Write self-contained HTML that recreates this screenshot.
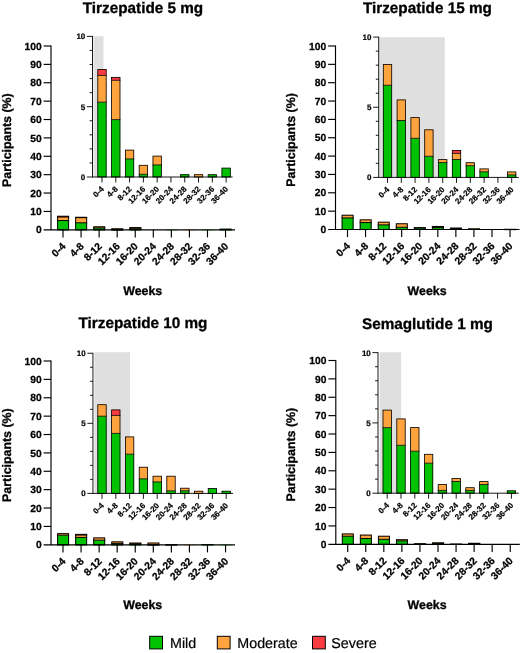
<!DOCTYPE html>
<html lang="en"><head><meta charset="utf-8"><title>Adverse events by severity over time</title>
<style>
html,body{margin:0;padding:0;background:#fff;}
body{width:520px;height:653px;overflow:hidden;}
svg{display:block;text-rendering:geometricPrecision;font-family:"Liberation Sans",sans-serif;fill:#000;}
</style></head><body>
<svg width="520" height="653" viewBox="0 0 520 653">
<rect x="0" y="0" width="520" height="653" fill="#fff"/>
<!-- Tirzepatide 5 mg -->
<text x="143.00" y="13.10" font-size="15.3" font-weight="bold" text-anchor="middle" stroke="#000" stroke-width="0.3">Tirzepatide 5 mg</text>
<text x="10.80" y="140.10" font-size="12.4" font-weight="bold" text-anchor="middle" stroke="#000" stroke-width="0.3" transform="rotate(-90 10.80 140.10)">Participants (%)</text>
<text x="142.70" y="294.60" font-size="12.4" font-weight="bold" text-anchor="middle" stroke="#000" stroke-width="0.3">Weeks</text>
<rect x="57.35" y="220.52" width="11.50" height="9.78" fill="#00C200"/>
<rect x="57.35" y="217.02" width="11.50" height="3.50" fill="#FFA33E"/>
<rect x="57.35" y="215.99" width="11.50" height="1.02" fill="#FA3C41"/>
<line x1="57.10" y1="220.52" x2="69.10" y2="220.52" stroke="#000" stroke-width="1.0"/>
<line x1="57.10" y1="217.02" x2="69.10" y2="217.02" stroke="#000" stroke-width="1.0"/>
<rect x="57.60" y="216.24" width="11.00" height="13.56" fill="none" stroke="#000" stroke-width="1.0"/>
<rect x="75.41" y="222.80" width="11.50" height="7.50" fill="#00C200"/>
<rect x="75.41" y="217.66" width="11.50" height="5.14" fill="#FFA33E"/>
<rect x="75.41" y="217.02" width="11.50" height="0.64" fill="#FA3C41"/>
<line x1="75.16" y1="222.80" x2="87.16" y2="222.80" stroke="#000" stroke-width="1.0"/>
<line x1="75.16" y1="217.66" x2="87.16" y2="217.66" stroke="#000" stroke-width="1.0"/>
<rect x="75.66" y="217.27" width="11.00" height="12.53" fill="none" stroke="#000" stroke-width="1.0"/>
<rect x="93.47" y="227.93" width="11.50" height="2.37" fill="#00C200"/>
<rect x="93.47" y="226.53" width="11.50" height="1.40" fill="#FFA33E"/>
<line x1="93.22" y1="227.93" x2="105.22" y2="227.93" stroke="#000" stroke-width="1.0"/>
<rect x="93.72" y="226.78" width="11.00" height="3.02" fill="none" stroke="#000" stroke-width="1.0"/>
<rect x="111.53" y="229.95" width="11.50" height="0.35" fill="#00C200"/>
<rect x="111.53" y="228.52" width="11.50" height="1.43" fill="#FFA33E"/>
<line x1="111.28" y1="229.95" x2="123.28" y2="229.95" stroke="#000" stroke-width="1.0"/>
<rect x="111.78" y="228.77" width="11.00" height="1.03" fill="none" stroke="#000" stroke-width="1.0"/>
<rect x="129.59" y="228.72" width="11.50" height="1.58" fill="#00C200"/>
<rect x="129.59" y="227.32" width="11.50" height="1.40" fill="#FFA33E"/>
<line x1="129.34" y1="228.72" x2="141.34" y2="228.72" stroke="#000" stroke-width="1.0"/>
<rect x="129.84" y="227.57" width="11.00" height="2.23" fill="none" stroke="#000" stroke-width="1.0"/>
<rect x="165.71" y="229.75" width="11.50" height="0.55" fill="#00C200"/>
<rect x="165.96" y="230.00" width="11.00" height="-0.20" fill="none" stroke="#000" stroke-width="1.0"/>
<rect x="183.77" y="229.75" width="11.50" height="0.55" fill="#FFA33E"/>
<rect x="184.02" y="230.00" width="11.00" height="-0.20" fill="none" stroke="#000" stroke-width="1.0"/>
<rect x="201.83" y="229.75" width="11.50" height="0.55" fill="#00C200"/>
<rect x="202.08" y="230.00" width="11.00" height="-0.20" fill="none" stroke="#000" stroke-width="1.0"/>
<rect x="219.89" y="228.88" width="11.50" height="1.42" fill="#00C200"/>
<rect x="220.14" y="229.13" width="11.00" height="0.67" fill="none" stroke="#000" stroke-width="1.0"/>
<line x1="51.00" y1="45.45" x2="51.00" y2="230.35" stroke="#000" stroke-width="1.15"/>
<line x1="43.60" y1="229.80" x2="235.00" y2="229.80" stroke="#000" stroke-width="1.15"/>
<text x="41.70" y="233.45" font-size="10.3" font-weight="bold" text-anchor="end" stroke="#000" stroke-width="0.25">0</text>
<line x1="43.60" y1="211.42" x2="51.00" y2="211.42" stroke="#000" stroke-width="1.15"/>
<text x="41.70" y="215.07" font-size="10.3" font-weight="bold" text-anchor="end" stroke="#000" stroke-width="0.25">10</text>
<line x1="43.60" y1="193.04" x2="51.00" y2="193.04" stroke="#000" stroke-width="1.15"/>
<text x="41.70" y="196.69" font-size="10.3" font-weight="bold" text-anchor="end" stroke="#000" stroke-width="0.25">20</text>
<line x1="43.60" y1="174.66" x2="51.00" y2="174.66" stroke="#000" stroke-width="1.15"/>
<text x="41.70" y="178.31" font-size="10.3" font-weight="bold" text-anchor="end" stroke="#000" stroke-width="0.25">30</text>
<line x1="43.60" y1="156.28" x2="51.00" y2="156.28" stroke="#000" stroke-width="1.15"/>
<text x="41.70" y="159.93" font-size="10.3" font-weight="bold" text-anchor="end" stroke="#000" stroke-width="0.25">40</text>
<line x1="43.60" y1="137.90" x2="51.00" y2="137.90" stroke="#000" stroke-width="1.15"/>
<text x="41.70" y="141.55" font-size="10.3" font-weight="bold" text-anchor="end" stroke="#000" stroke-width="0.25">50</text>
<line x1="43.60" y1="119.52" x2="51.00" y2="119.52" stroke="#000" stroke-width="1.15"/>
<text x="41.70" y="123.17" font-size="10.3" font-weight="bold" text-anchor="end" stroke="#000" stroke-width="0.25">60</text>
<line x1="43.60" y1="101.14" x2="51.00" y2="101.14" stroke="#000" stroke-width="1.15"/>
<text x="41.70" y="104.79" font-size="10.3" font-weight="bold" text-anchor="end" stroke="#000" stroke-width="0.25">70</text>
<line x1="43.60" y1="82.76" x2="51.00" y2="82.76" stroke="#000" stroke-width="1.15"/>
<text x="41.70" y="86.41" font-size="10.3" font-weight="bold" text-anchor="end" stroke="#000" stroke-width="0.25">80</text>
<line x1="43.60" y1="64.38" x2="51.00" y2="64.38" stroke="#000" stroke-width="1.15"/>
<text x="41.70" y="68.03" font-size="10.3" font-weight="bold" text-anchor="end" stroke="#000" stroke-width="0.25">90</text>
<line x1="43.60" y1="46.00" x2="51.00" y2="46.00" stroke="#000" stroke-width="1.15"/>
<text x="41.70" y="49.65" font-size="10.3" font-weight="bold" text-anchor="end" stroke="#000" stroke-width="0.25">100</text>
<line x1="63.00" y1="229.80" x2="63.00" y2="237.40" stroke="#000" stroke-width="1.15"/>
<text x="66.40" y="247.00" font-size="10.3" font-weight="bold" text-anchor="end" stroke="#000" stroke-width="0.25" transform="rotate(-45 66.40 247.00)">0-4</text>
<line x1="81.06" y1="229.80" x2="81.06" y2="237.40" stroke="#000" stroke-width="1.15"/>
<text x="84.46" y="247.00" font-size="10.3" font-weight="bold" text-anchor="end" stroke="#000" stroke-width="0.25" transform="rotate(-45 84.46 247.00)">4-8</text>
<line x1="99.12" y1="229.80" x2="99.12" y2="237.40" stroke="#000" stroke-width="1.15"/>
<text x="102.52" y="247.00" font-size="10.3" font-weight="bold" text-anchor="end" stroke="#000" stroke-width="0.25" transform="rotate(-45 102.52 247.00)">8-12</text>
<line x1="117.18" y1="229.80" x2="117.18" y2="237.40" stroke="#000" stroke-width="1.15"/>
<text x="120.58" y="247.00" font-size="10.3" font-weight="bold" text-anchor="end" stroke="#000" stroke-width="0.25" transform="rotate(-45 120.58 247.00)">12-16</text>
<line x1="135.24" y1="229.80" x2="135.24" y2="237.40" stroke="#000" stroke-width="1.15"/>
<text x="138.64" y="247.00" font-size="10.3" font-weight="bold" text-anchor="end" stroke="#000" stroke-width="0.25" transform="rotate(-45 138.64 247.00)">16-20</text>
<line x1="153.30" y1="229.80" x2="153.30" y2="237.40" stroke="#000" stroke-width="1.15"/>
<text x="156.70" y="247.00" font-size="10.3" font-weight="bold" text-anchor="end" stroke="#000" stroke-width="0.25" transform="rotate(-45 156.70 247.00)">20-24</text>
<line x1="171.36" y1="229.80" x2="171.36" y2="237.40" stroke="#000" stroke-width="1.15"/>
<text x="174.76" y="247.00" font-size="10.3" font-weight="bold" text-anchor="end" stroke="#000" stroke-width="0.25" transform="rotate(-45 174.76 247.00)">24-28</text>
<line x1="189.42" y1="229.80" x2="189.42" y2="237.40" stroke="#000" stroke-width="1.15"/>
<text x="192.82" y="247.00" font-size="10.3" font-weight="bold" text-anchor="end" stroke="#000" stroke-width="0.25" transform="rotate(-45 192.82 247.00)">28-32</text>
<line x1="207.48" y1="229.80" x2="207.48" y2="237.40" stroke="#000" stroke-width="1.15"/>
<text x="210.88" y="247.00" font-size="10.3" font-weight="bold" text-anchor="end" stroke="#000" stroke-width="0.25" transform="rotate(-45 210.88 247.00)">32-36</text>
<line x1="225.54" y1="229.80" x2="225.54" y2="237.40" stroke="#000" stroke-width="1.15"/>
<text x="228.94" y="247.00" font-size="10.3" font-weight="bold" text-anchor="end" stroke="#000" stroke-width="0.25" transform="rotate(-45 228.94 247.00)">36-40</text>
<rect x="93.50" y="36.20" width="10.00" height="140.80" fill="#DFDFDF"/>
<rect x="97.65" y="102.20" width="8.70" height="74.80" fill="#00C200"/>
<rect x="97.65" y="75.40" width="8.70" height="26.80" fill="#FFA33E"/>
<rect x="97.65" y="69.35" width="8.70" height="6.05" fill="#FA3C41"/>
<line x1="97.40" y1="102.20" x2="106.60" y2="102.20" stroke="#000" stroke-width="0.8"/>
<line x1="97.40" y1="75.40" x2="106.60" y2="75.40" stroke="#000" stroke-width="0.8"/>
<rect x="97.80" y="69.50" width="8.40" height="107.50" fill="none" stroke="#000" stroke-width="0.8"/>
<rect x="111.44" y="119.60" width="8.70" height="57.40" fill="#00C200"/>
<rect x="111.44" y="80.30" width="8.70" height="39.30" fill="#FFA33E"/>
<rect x="111.44" y="77.20" width="8.70" height="3.10" fill="#FA3C41"/>
<line x1="111.19" y1="119.60" x2="120.39" y2="119.60" stroke="#000" stroke-width="0.8"/>
<line x1="111.19" y1="80.30" x2="120.39" y2="80.30" stroke="#000" stroke-width="0.8"/>
<rect x="111.59" y="77.35" width="8.40" height="99.65" fill="none" stroke="#000" stroke-width="0.8"/>
<rect x="125.23" y="158.90" width="8.70" height="18.10" fill="#00C200"/>
<rect x="125.23" y="149.95" width="8.70" height="8.95" fill="#FFA33E"/>
<line x1="124.98" y1="158.90" x2="134.18" y2="158.90" stroke="#000" stroke-width="0.8"/>
<rect x="125.38" y="150.10" width="8.40" height="26.90" fill="none" stroke="#000" stroke-width="0.8"/>
<rect x="139.02" y="174.30" width="8.70" height="2.70" fill="#00C200"/>
<rect x="139.02" y="165.15" width="8.70" height="9.15" fill="#FFA33E"/>
<line x1="138.77" y1="174.30" x2="147.97" y2="174.30" stroke="#000" stroke-width="0.8"/>
<rect x="139.17" y="165.30" width="8.40" height="11.70" fill="none" stroke="#000" stroke-width="0.8"/>
<rect x="152.81" y="164.90" width="8.70" height="12.10" fill="#00C200"/>
<rect x="152.81" y="155.95" width="8.70" height="8.95" fill="#FFA33E"/>
<line x1="152.56" y1="164.90" x2="161.76" y2="164.90" stroke="#000" stroke-width="0.8"/>
<rect x="152.96" y="156.10" width="8.40" height="20.90" fill="none" stroke="#000" stroke-width="0.8"/>
<rect x="180.39" y="174.55" width="8.70" height="2.45" fill="#00C200"/>
<rect x="180.54" y="174.70" width="8.40" height="2.30" fill="none" stroke="#000" stroke-width="0.8"/>
<rect x="194.18" y="174.55" width="8.70" height="2.45" fill="#FFA33E"/>
<rect x="194.33" y="174.70" width="8.40" height="2.30" fill="none" stroke="#000" stroke-width="0.8"/>
<rect x="207.97" y="174.55" width="8.70" height="2.45" fill="#00C200"/>
<rect x="208.12" y="174.70" width="8.40" height="2.30" fill="none" stroke="#000" stroke-width="0.8"/>
<rect x="221.76" y="167.95" width="8.70" height="9.05" fill="#00C200"/>
<rect x="221.91" y="168.10" width="8.40" height="8.90" fill="none" stroke="#000" stroke-width="0.8"/>
<line x1="92.50" y1="35.95" x2="92.50" y2="177.45" stroke="#000" stroke-width="0.9"/>
<line x1="86.90" y1="177.00" x2="232.60" y2="177.00" stroke="#000" stroke-width="0.9"/>
<text x="85.30" y="180.05" font-size="8" font-weight="bold" text-anchor="end" stroke="#000" stroke-width="0.2">0</text>
<line x1="89.60" y1="162.94" x2="92.50" y2="162.94" stroke="#000" stroke-width="0.9"/>
<line x1="89.60" y1="148.88" x2="92.50" y2="148.88" stroke="#000" stroke-width="0.9"/>
<line x1="89.60" y1="134.82" x2="92.50" y2="134.82" stroke="#000" stroke-width="0.9"/>
<line x1="89.60" y1="120.76" x2="92.50" y2="120.76" stroke="#000" stroke-width="0.9"/>
<line x1="86.90" y1="106.70" x2="92.50" y2="106.70" stroke="#000" stroke-width="0.9"/>
<text x="85.30" y="109.75" font-size="8" font-weight="bold" text-anchor="end" stroke="#000" stroke-width="0.2">5</text>
<line x1="89.60" y1="92.64" x2="92.50" y2="92.64" stroke="#000" stroke-width="0.9"/>
<line x1="89.60" y1="78.58" x2="92.50" y2="78.58" stroke="#000" stroke-width="0.9"/>
<line x1="89.60" y1="64.52" x2="92.50" y2="64.52" stroke="#000" stroke-width="0.9"/>
<line x1="89.60" y1="50.46" x2="92.50" y2="50.46" stroke="#000" stroke-width="0.9"/>
<line x1="86.90" y1="36.40" x2="92.50" y2="36.40" stroke="#000" stroke-width="0.9"/>
<text x="85.30" y="39.45" font-size="8" font-weight="bold" text-anchor="end" stroke="#000" stroke-width="0.2">10</text>
<line x1="102.00" y1="177.00" x2="102.00" y2="182.50" stroke="#000" stroke-width="0.9"/>
<text x="104.50" y="189.70" font-size="8" font-weight="bold" text-anchor="end" stroke="#000" stroke-width="0.2" transform="rotate(-45 104.50 189.70)">0-4</text>
<line x1="115.79" y1="177.00" x2="115.79" y2="182.50" stroke="#000" stroke-width="0.9"/>
<text x="118.29" y="189.70" font-size="8" font-weight="bold" text-anchor="end" stroke="#000" stroke-width="0.2" transform="rotate(-45 118.29 189.70)">4-8</text>
<line x1="129.58" y1="177.00" x2="129.58" y2="182.50" stroke="#000" stroke-width="0.9"/>
<text x="132.08" y="189.70" font-size="8" font-weight="bold" text-anchor="end" stroke="#000" stroke-width="0.2" transform="rotate(-45 132.08 189.70)">8-12</text>
<line x1="143.37" y1="177.00" x2="143.37" y2="182.50" stroke="#000" stroke-width="0.9"/>
<text x="145.87" y="189.70" font-size="8" font-weight="bold" text-anchor="end" stroke="#000" stroke-width="0.2" transform="rotate(-45 145.87 189.70)">12-16</text>
<line x1="157.16" y1="177.00" x2="157.16" y2="182.50" stroke="#000" stroke-width="0.9"/>
<text x="159.66" y="189.70" font-size="8" font-weight="bold" text-anchor="end" stroke="#000" stroke-width="0.2" transform="rotate(-45 159.66 189.70)">16-20</text>
<line x1="170.95" y1="177.00" x2="170.95" y2="182.50" stroke="#000" stroke-width="0.9"/>
<text x="173.45" y="189.70" font-size="8" font-weight="bold" text-anchor="end" stroke="#000" stroke-width="0.2" transform="rotate(-45 173.45 189.70)">20-24</text>
<line x1="184.74" y1="177.00" x2="184.74" y2="182.50" stroke="#000" stroke-width="0.9"/>
<text x="187.24" y="189.70" font-size="8" font-weight="bold" text-anchor="end" stroke="#000" stroke-width="0.2" transform="rotate(-45 187.24 189.70)">24-28</text>
<line x1="198.53" y1="177.00" x2="198.53" y2="182.50" stroke="#000" stroke-width="0.9"/>
<text x="201.03" y="189.70" font-size="8" font-weight="bold" text-anchor="end" stroke="#000" stroke-width="0.2" transform="rotate(-45 201.03 189.70)">28-32</text>
<line x1="212.32" y1="177.00" x2="212.32" y2="182.50" stroke="#000" stroke-width="0.9"/>
<text x="214.82" y="189.70" font-size="8" font-weight="bold" text-anchor="end" stroke="#000" stroke-width="0.2" transform="rotate(-45 214.82 189.70)">32-36</text>
<line x1="226.11" y1="177.00" x2="226.11" y2="182.50" stroke="#000" stroke-width="0.9"/>
<text x="228.61" y="189.70" font-size="8" font-weight="bold" text-anchor="end" stroke="#000" stroke-width="0.2" transform="rotate(-45 228.61 189.70)">36-40</text>
<!-- Tirzepatide 15 mg -->
<text x="427.40" y="13.10" font-size="15.3" font-weight="bold" text-anchor="middle" stroke="#000" stroke-width="0.3">Tirzepatide 15 mg</text>
<text x="295.50" y="139.95" font-size="12.4" font-weight="bold" text-anchor="middle" stroke="#000" stroke-width="0.3" transform="rotate(-90 295.50 139.95)">Participants (%)</text>
<text x="427.10" y="294.60" font-size="12.4" font-weight="bold" text-anchor="middle" stroke="#000" stroke-width="0.3">Weeks</text>
<rect x="341.85" y="217.95" width="11.50" height="12.05" fill="#00C200"/>
<rect x="341.85" y="214.97" width="11.50" height="2.98" fill="#FFA33E"/>
<line x1="341.60" y1="217.95" x2="353.60" y2="217.95" stroke="#000" stroke-width="1.0"/>
<rect x="342.10" y="215.22" width="11.00" height="14.28" fill="none" stroke="#000" stroke-width="1.0"/>
<rect x="359.91" y="222.56" width="11.50" height="7.44" fill="#00C200"/>
<rect x="359.91" y="219.61" width="11.50" height="2.95" fill="#FFA33E"/>
<line x1="359.66" y1="222.56" x2="371.66" y2="222.56" stroke="#000" stroke-width="1.0"/>
<rect x="360.16" y="219.86" width="11.00" height="9.64" fill="none" stroke="#000" stroke-width="1.0"/>
<rect x="377.97" y="224.89" width="11.50" height="5.11" fill="#00C200"/>
<rect x="377.97" y="221.93" width="11.50" height="2.96" fill="#FFA33E"/>
<line x1="377.72" y1="224.89" x2="389.72" y2="224.89" stroke="#000" stroke-width="1.0"/>
<rect x="378.22" y="222.18" width="11.00" height="7.32" fill="none" stroke="#000" stroke-width="1.0"/>
<rect x="396.03" y="227.24" width="11.50" height="2.76" fill="#00C200"/>
<rect x="396.03" y="223.52" width="11.50" height="3.72" fill="#FFA33E"/>
<line x1="395.78" y1="227.24" x2="407.78" y2="227.24" stroke="#000" stroke-width="1.0"/>
<rect x="396.28" y="223.77" width="11.00" height="5.73" fill="none" stroke="#000" stroke-width="1.0"/>
<rect x="414.09" y="228.06" width="11.50" height="1.94" fill="#00C200"/>
<rect x="414.09" y="227.42" width="11.50" height="0.64" fill="#FFA33E"/>
<line x1="413.84" y1="228.06" x2="425.84" y2="228.06" stroke="#000" stroke-width="1.0"/>
<rect x="414.34" y="227.67" width="11.00" height="1.83" fill="none" stroke="#000" stroke-width="1.0"/>
<rect x="432.15" y="227.66" width="11.50" height="2.34" fill="#00C200"/>
<rect x="432.15" y="226.86" width="11.50" height="0.80" fill="#FFA33E"/>
<rect x="432.15" y="226.22" width="11.50" height="0.64" fill="#FA3C41"/>
<line x1="431.90" y1="227.66" x2="443.90" y2="227.66" stroke="#000" stroke-width="1.0"/>
<line x1="431.90" y1="226.86" x2="443.90" y2="226.86" stroke="#000" stroke-width="1.0"/>
<rect x="432.40" y="226.47" width="11.00" height="3.03" fill="none" stroke="#000" stroke-width="1.0"/>
<rect x="450.21" y="228.47" width="11.50" height="1.53" fill="#00C200"/>
<rect x="450.21" y="227.83" width="11.50" height="0.64" fill="#FFA33E"/>
<line x1="449.96" y1="228.47" x2="461.96" y2="228.47" stroke="#000" stroke-width="1.0"/>
<rect x="450.46" y="228.08" width="11.00" height="1.42" fill="none" stroke="#000" stroke-width="1.0"/>
<rect x="468.27" y="229.27" width="11.50" height="0.73" fill="#00C200"/>
<rect x="468.27" y="228.64" width="11.50" height="0.63" fill="#FFA33E"/>
<line x1="468.02" y1="229.27" x2="480.02" y2="229.27" stroke="#000" stroke-width="1.0"/>
<rect x="468.52" y="228.89" width="11.00" height="0.61" fill="none" stroke="#000" stroke-width="1.0"/>
<rect x="504.39" y="229.67" width="11.50" height="0.33" fill="#00C200"/>
<rect x="504.39" y="229.03" width="11.50" height="0.64" fill="#FFA33E"/>
<line x1="504.14" y1="229.67" x2="516.14" y2="229.67" stroke="#000" stroke-width="1.0"/>
<rect x="504.64" y="229.28" width="11.00" height="0.22" fill="none" stroke="#000" stroke-width="1.0"/>
<line x1="335.50" y1="45.45" x2="335.50" y2="230.05" stroke="#000" stroke-width="1.15"/>
<line x1="328.10" y1="229.50" x2="519.60" y2="229.50" stroke="#000" stroke-width="1.15"/>
<text x="326.20" y="233.15" font-size="10.3" font-weight="bold" text-anchor="end" stroke="#000" stroke-width="0.25">0</text>
<line x1="328.10" y1="211.15" x2="335.50" y2="211.15" stroke="#000" stroke-width="1.15"/>
<text x="326.20" y="214.80" font-size="10.3" font-weight="bold" text-anchor="end" stroke="#000" stroke-width="0.25">10</text>
<line x1="328.10" y1="192.80" x2="335.50" y2="192.80" stroke="#000" stroke-width="1.15"/>
<text x="326.20" y="196.45" font-size="10.3" font-weight="bold" text-anchor="end" stroke="#000" stroke-width="0.25">20</text>
<line x1="328.10" y1="174.45" x2="335.50" y2="174.45" stroke="#000" stroke-width="1.15"/>
<text x="326.20" y="178.10" font-size="10.3" font-weight="bold" text-anchor="end" stroke="#000" stroke-width="0.25">30</text>
<line x1="328.10" y1="156.10" x2="335.50" y2="156.10" stroke="#000" stroke-width="1.15"/>
<text x="326.20" y="159.75" font-size="10.3" font-weight="bold" text-anchor="end" stroke="#000" stroke-width="0.25">40</text>
<line x1="328.10" y1="137.75" x2="335.50" y2="137.75" stroke="#000" stroke-width="1.15"/>
<text x="326.20" y="141.40" font-size="10.3" font-weight="bold" text-anchor="end" stroke="#000" stroke-width="0.25">50</text>
<line x1="328.10" y1="119.40" x2="335.50" y2="119.40" stroke="#000" stroke-width="1.15"/>
<text x="326.20" y="123.05" font-size="10.3" font-weight="bold" text-anchor="end" stroke="#000" stroke-width="0.25">60</text>
<line x1="328.10" y1="101.05" x2="335.50" y2="101.05" stroke="#000" stroke-width="1.15"/>
<text x="326.20" y="104.70" font-size="10.3" font-weight="bold" text-anchor="end" stroke="#000" stroke-width="0.25">70</text>
<line x1="328.10" y1="82.70" x2="335.50" y2="82.70" stroke="#000" stroke-width="1.15"/>
<text x="326.20" y="86.35" font-size="10.3" font-weight="bold" text-anchor="end" stroke="#000" stroke-width="0.25">80</text>
<line x1="328.10" y1="64.35" x2="335.50" y2="64.35" stroke="#000" stroke-width="1.15"/>
<text x="326.20" y="68.00" font-size="10.3" font-weight="bold" text-anchor="end" stroke="#000" stroke-width="0.25">90</text>
<line x1="328.10" y1="46.00" x2="335.50" y2="46.00" stroke="#000" stroke-width="1.15"/>
<text x="326.20" y="49.65" font-size="10.3" font-weight="bold" text-anchor="end" stroke="#000" stroke-width="0.25">100</text>
<line x1="347.50" y1="229.50" x2="347.50" y2="237.10" stroke="#000" stroke-width="1.15"/>
<text x="350.90" y="246.70" font-size="10.3" font-weight="bold" text-anchor="end" stroke="#000" stroke-width="0.25" transform="rotate(-45 350.90 246.70)">0-4</text>
<line x1="365.56" y1="229.50" x2="365.56" y2="237.10" stroke="#000" stroke-width="1.15"/>
<text x="368.96" y="246.70" font-size="10.3" font-weight="bold" text-anchor="end" stroke="#000" stroke-width="0.25" transform="rotate(-45 368.96 246.70)">4-8</text>
<line x1="383.62" y1="229.50" x2="383.62" y2="237.10" stroke="#000" stroke-width="1.15"/>
<text x="387.02" y="246.70" font-size="10.3" font-weight="bold" text-anchor="end" stroke="#000" stroke-width="0.25" transform="rotate(-45 387.02 246.70)">8-12</text>
<line x1="401.68" y1="229.50" x2="401.68" y2="237.10" stroke="#000" stroke-width="1.15"/>
<text x="405.08" y="246.70" font-size="10.3" font-weight="bold" text-anchor="end" stroke="#000" stroke-width="0.25" transform="rotate(-45 405.08 246.70)">12-16</text>
<line x1="419.74" y1="229.50" x2="419.74" y2="237.10" stroke="#000" stroke-width="1.15"/>
<text x="423.14" y="246.70" font-size="10.3" font-weight="bold" text-anchor="end" stroke="#000" stroke-width="0.25" transform="rotate(-45 423.14 246.70)">16-20</text>
<line x1="437.80" y1="229.50" x2="437.80" y2="237.10" stroke="#000" stroke-width="1.15"/>
<text x="441.20" y="246.70" font-size="10.3" font-weight="bold" text-anchor="end" stroke="#000" stroke-width="0.25" transform="rotate(-45 441.20 246.70)">20-24</text>
<line x1="455.86" y1="229.50" x2="455.86" y2="237.10" stroke="#000" stroke-width="1.15"/>
<text x="459.26" y="246.70" font-size="10.3" font-weight="bold" text-anchor="end" stroke="#000" stroke-width="0.25" transform="rotate(-45 459.26 246.70)">24-28</text>
<line x1="473.92" y1="229.50" x2="473.92" y2="237.10" stroke="#000" stroke-width="1.15"/>
<text x="477.32" y="246.70" font-size="10.3" font-weight="bold" text-anchor="end" stroke="#000" stroke-width="0.25" transform="rotate(-45 477.32 246.70)">28-32</text>
<line x1="491.98" y1="229.50" x2="491.98" y2="237.10" stroke="#000" stroke-width="1.15"/>
<text x="495.38" y="246.70" font-size="10.3" font-weight="bold" text-anchor="end" stroke="#000" stroke-width="0.25" transform="rotate(-45 495.38 246.70)">32-36</text>
<line x1="510.04" y1="229.50" x2="510.04" y2="237.10" stroke="#000" stroke-width="1.15"/>
<text x="513.44" y="246.70" font-size="10.3" font-weight="bold" text-anchor="end" stroke="#000" stroke-width="0.25" transform="rotate(-45 513.44 246.70)">36-40</text>
<rect x="379.30" y="37.20" width="65.50" height="140.20" fill="#DFDFDF"/>
<rect x="383.15" y="85.25" width="8.70" height="92.15" fill="#00C200"/>
<rect x="383.15" y="64.25" width="8.70" height="21.00" fill="#FFA33E"/>
<line x1="382.90" y1="85.25" x2="392.10" y2="85.25" stroke="#000" stroke-width="0.8"/>
<rect x="383.30" y="64.40" width="8.40" height="113.00" fill="none" stroke="#000" stroke-width="0.8"/>
<rect x="396.95" y="120.50" width="8.70" height="56.90" fill="#00C200"/>
<rect x="396.95" y="99.75" width="8.70" height="20.75" fill="#FFA33E"/>
<line x1="396.70" y1="120.50" x2="405.90" y2="120.50" stroke="#000" stroke-width="0.8"/>
<rect x="397.10" y="99.90" width="8.40" height="77.50" fill="none" stroke="#000" stroke-width="0.8"/>
<rect x="410.75" y="138.30" width="8.70" height="39.10" fill="#00C200"/>
<rect x="410.75" y="117.45" width="8.70" height="20.85" fill="#FFA33E"/>
<line x1="410.50" y1="138.30" x2="419.70" y2="138.30" stroke="#000" stroke-width="0.8"/>
<rect x="410.90" y="117.60" width="8.40" height="59.80" fill="none" stroke="#000" stroke-width="0.8"/>
<rect x="424.55" y="156.30" width="8.70" height="21.10" fill="#00C200"/>
<rect x="424.55" y="129.65" width="8.70" height="26.65" fill="#FFA33E"/>
<line x1="424.30" y1="156.30" x2="433.50" y2="156.30" stroke="#000" stroke-width="0.8"/>
<rect x="424.70" y="129.80" width="8.40" height="47.60" fill="none" stroke="#000" stroke-width="0.8"/>
<rect x="438.35" y="162.60" width="8.70" height="14.80" fill="#00C200"/>
<rect x="438.35" y="159.45" width="8.70" height="3.15" fill="#FFA33E"/>
<line x1="438.10" y1="162.60" x2="447.30" y2="162.60" stroke="#000" stroke-width="0.8"/>
<rect x="438.50" y="159.60" width="8.40" height="17.80" fill="none" stroke="#000" stroke-width="0.8"/>
<rect x="452.15" y="159.50" width="8.70" height="17.90" fill="#00C200"/>
<rect x="452.15" y="153.40" width="8.70" height="6.10" fill="#FFA33E"/>
<rect x="452.15" y="150.25" width="8.70" height="3.15" fill="#FA3C41"/>
<line x1="451.90" y1="159.50" x2="461.10" y2="159.50" stroke="#000" stroke-width="0.8"/>
<line x1="451.90" y1="153.40" x2="461.10" y2="153.40" stroke="#000" stroke-width="0.8"/>
<rect x="452.30" y="150.40" width="8.40" height="27.00" fill="none" stroke="#000" stroke-width="0.8"/>
<rect x="465.95" y="165.70" width="8.70" height="11.70" fill="#00C200"/>
<rect x="465.95" y="162.55" width="8.70" height="3.15" fill="#FFA33E"/>
<line x1="465.70" y1="165.70" x2="474.90" y2="165.70" stroke="#000" stroke-width="0.8"/>
<rect x="466.10" y="162.70" width="8.40" height="14.70" fill="none" stroke="#000" stroke-width="0.8"/>
<rect x="479.75" y="171.80" width="8.70" height="5.60" fill="#00C200"/>
<rect x="479.75" y="168.75" width="8.70" height="3.05" fill="#FFA33E"/>
<line x1="479.50" y1="171.80" x2="488.70" y2="171.80" stroke="#000" stroke-width="0.8"/>
<rect x="479.90" y="168.90" width="8.40" height="8.50" fill="none" stroke="#000" stroke-width="0.8"/>
<rect x="507.35" y="174.90" width="8.70" height="2.50" fill="#00C200"/>
<rect x="507.35" y="171.75" width="8.70" height="3.15" fill="#FFA33E"/>
<line x1="507.10" y1="174.90" x2="516.30" y2="174.90" stroke="#000" stroke-width="0.8"/>
<rect x="507.50" y="171.90" width="8.40" height="5.50" fill="none" stroke="#000" stroke-width="0.8"/>
<line x1="378.70" y1="36.65" x2="378.70" y2="177.85" stroke="#000" stroke-width="0.9"/>
<line x1="373.10" y1="177.40" x2="518.80" y2="177.40" stroke="#000" stroke-width="0.9"/>
<text x="371.50" y="180.45" font-size="8" font-weight="bold" text-anchor="end" stroke="#000" stroke-width="0.2">0</text>
<line x1="375.80" y1="163.37" x2="378.70" y2="163.37" stroke="#000" stroke-width="0.9"/>
<line x1="375.80" y1="149.34" x2="378.70" y2="149.34" stroke="#000" stroke-width="0.9"/>
<line x1="375.80" y1="135.31" x2="378.70" y2="135.31" stroke="#000" stroke-width="0.9"/>
<line x1="375.80" y1="121.28" x2="378.70" y2="121.28" stroke="#000" stroke-width="0.9"/>
<line x1="373.10" y1="107.25" x2="378.70" y2="107.25" stroke="#000" stroke-width="0.9"/>
<text x="371.50" y="110.30" font-size="8" font-weight="bold" text-anchor="end" stroke="#000" stroke-width="0.2">5</text>
<line x1="375.80" y1="93.22" x2="378.70" y2="93.22" stroke="#000" stroke-width="0.9"/>
<line x1="375.80" y1="79.19" x2="378.70" y2="79.19" stroke="#000" stroke-width="0.9"/>
<line x1="375.80" y1="65.16" x2="378.70" y2="65.16" stroke="#000" stroke-width="0.9"/>
<line x1="375.80" y1="51.13" x2="378.70" y2="51.13" stroke="#000" stroke-width="0.9"/>
<line x1="373.10" y1="37.10" x2="378.70" y2="37.10" stroke="#000" stroke-width="0.9"/>
<text x="371.50" y="40.15" font-size="8" font-weight="bold" text-anchor="end" stroke="#000" stroke-width="0.2">10</text>
<line x1="387.50" y1="177.40" x2="387.50" y2="182.90" stroke="#000" stroke-width="0.9"/>
<text x="390.00" y="190.10" font-size="8" font-weight="bold" text-anchor="end" stroke="#000" stroke-width="0.2" transform="rotate(-45 390.00 190.10)">0-4</text>
<line x1="401.30" y1="177.40" x2="401.30" y2="182.90" stroke="#000" stroke-width="0.9"/>
<text x="403.80" y="190.10" font-size="8" font-weight="bold" text-anchor="end" stroke="#000" stroke-width="0.2" transform="rotate(-45 403.80 190.10)">4-8</text>
<line x1="415.10" y1="177.40" x2="415.10" y2="182.90" stroke="#000" stroke-width="0.9"/>
<text x="417.60" y="190.10" font-size="8" font-weight="bold" text-anchor="end" stroke="#000" stroke-width="0.2" transform="rotate(-45 417.60 190.10)">8-12</text>
<line x1="428.90" y1="177.40" x2="428.90" y2="182.90" stroke="#000" stroke-width="0.9"/>
<text x="431.40" y="190.10" font-size="8" font-weight="bold" text-anchor="end" stroke="#000" stroke-width="0.2" transform="rotate(-45 431.40 190.10)">12-16</text>
<line x1="442.70" y1="177.40" x2="442.70" y2="182.90" stroke="#000" stroke-width="0.9"/>
<text x="445.20" y="190.10" font-size="8" font-weight="bold" text-anchor="end" stroke="#000" stroke-width="0.2" transform="rotate(-45 445.20 190.10)">16-20</text>
<line x1="456.50" y1="177.40" x2="456.50" y2="182.90" stroke="#000" stroke-width="0.9"/>
<text x="459.00" y="190.10" font-size="8" font-weight="bold" text-anchor="end" stroke="#000" stroke-width="0.2" transform="rotate(-45 459.00 190.10)">20-24</text>
<line x1="470.30" y1="177.40" x2="470.30" y2="182.90" stroke="#000" stroke-width="0.9"/>
<text x="472.80" y="190.10" font-size="8" font-weight="bold" text-anchor="end" stroke="#000" stroke-width="0.2" transform="rotate(-45 472.80 190.10)">24-28</text>
<line x1="484.10" y1="177.40" x2="484.10" y2="182.90" stroke="#000" stroke-width="0.9"/>
<text x="486.60" y="190.10" font-size="8" font-weight="bold" text-anchor="end" stroke="#000" stroke-width="0.2" transform="rotate(-45 486.60 190.10)">28-32</text>
<line x1="497.90" y1="177.40" x2="497.90" y2="182.90" stroke="#000" stroke-width="0.9"/>
<text x="500.40" y="190.10" font-size="8" font-weight="bold" text-anchor="end" stroke="#000" stroke-width="0.2" transform="rotate(-45 500.40 190.10)">32-36</text>
<line x1="511.70" y1="177.40" x2="511.70" y2="182.90" stroke="#000" stroke-width="0.9"/>
<text x="514.20" y="190.10" font-size="8" font-weight="bold" text-anchor="end" stroke="#000" stroke-width="0.2" transform="rotate(-45 514.20 190.10)">36-40</text>
<!-- Tirzepatide 10 mg -->
<text x="143.00" y="327.90" font-size="15.3" font-weight="bold" text-anchor="middle" stroke="#000" stroke-width="0.3">Tirzepatide 10 mg</text>
<text x="10.80" y="455.10" font-size="12.4" font-weight="bold" text-anchor="middle" stroke="#000" stroke-width="0.3" transform="rotate(-90 10.80 455.10)">Participants (%)</text>
<text x="142.70" y="609.40" font-size="12.4" font-weight="bold" text-anchor="middle" stroke="#000" stroke-width="0.3">Weeks</text>
<rect x="57.35" y="535.18" width="11.50" height="10.12" fill="#00C200"/>
<rect x="57.35" y="533.41" width="11.50" height="1.76" fill="#FFA33E"/>
<line x1="57.10" y1="535.18" x2="69.10" y2="535.18" stroke="#000" stroke-width="1.0"/>
<rect x="57.60" y="533.66" width="11.00" height="11.14" fill="none" stroke="#000" stroke-width="1.0"/>
<rect x="75.41" y="537.43" width="11.50" height="7.87" fill="#00C200"/>
<rect x="75.41" y="535.07" width="11.50" height="2.36" fill="#FFA33E"/>
<rect x="75.41" y="534.10" width="11.50" height="0.97" fill="#FA3C41"/>
<line x1="75.16" y1="537.43" x2="87.16" y2="537.43" stroke="#000" stroke-width="1.0"/>
<line x1="75.16" y1="535.07" x2="87.16" y2="535.07" stroke="#000" stroke-width="1.0"/>
<rect x="75.66" y="534.35" width="11.00" height="10.45" fill="none" stroke="#000" stroke-width="1.0"/>
<rect x="93.47" y="540.16" width="11.50" height="5.14" fill="#00C200"/>
<rect x="93.47" y="537.64" width="11.50" height="2.52" fill="#FFA33E"/>
<line x1="93.22" y1="540.16" x2="105.22" y2="540.16" stroke="#000" stroke-width="1.0"/>
<rect x="93.72" y="537.89" width="11.00" height="6.91" fill="none" stroke="#000" stroke-width="1.0"/>
<rect x="111.53" y="543.39" width="11.50" height="1.91" fill="#00C200"/>
<rect x="111.53" y="541.61" width="11.50" height="1.77" fill="#FFA33E"/>
<line x1="111.28" y1="543.39" x2="123.28" y2="543.39" stroke="#000" stroke-width="1.0"/>
<rect x="111.78" y="541.86" width="11.00" height="2.94" fill="none" stroke="#000" stroke-width="1.0"/>
<rect x="129.59" y="543.79" width="11.50" height="1.51" fill="#00C200"/>
<rect x="129.59" y="542.79" width="11.50" height="1.00" fill="#FFA33E"/>
<line x1="129.34" y1="543.79" x2="141.34" y2="543.79" stroke="#000" stroke-width="1.0"/>
<rect x="129.84" y="543.04" width="11.00" height="1.76" fill="none" stroke="#000" stroke-width="1.0"/>
<rect x="147.65" y="544.96" width="11.50" height="0.34" fill="#00C200"/>
<rect x="147.65" y="542.79" width="11.50" height="2.17" fill="#FFA33E"/>
<line x1="147.40" y1="544.96" x2="159.40" y2="544.96" stroke="#000" stroke-width="1.0"/>
<rect x="147.90" y="543.04" width="11.00" height="1.76" fill="none" stroke="#000" stroke-width="1.0"/>
<rect x="165.71" y="544.96" width="11.50" height="0.34" fill="#00C200"/>
<rect x="165.71" y="544.37" width="11.50" height="0.59" fill="#FFA33E"/>
<line x1="165.46" y1="544.96" x2="177.46" y2="544.96" stroke="#000" stroke-width="1.0"/>
<rect x="165.96" y="544.62" width="11.00" height="0.18" fill="none" stroke="#000" stroke-width="1.0"/>
<rect x="183.77" y="544.76" width="11.50" height="0.54" fill="#FFA33E"/>
<rect x="184.02" y="545.01" width="11.00" height="-0.21" fill="none" stroke="#000" stroke-width="1.0"/>
<rect x="201.83" y="544.40" width="11.50" height="0.90" fill="#00C200"/>
<rect x="202.08" y="544.65" width="11.00" height="0.15" fill="none" stroke="#000" stroke-width="1.0"/>
<rect x="219.89" y="544.76" width="11.50" height="0.54" fill="#00C200"/>
<rect x="220.14" y="545.01" width="11.00" height="-0.21" fill="none" stroke="#000" stroke-width="1.0"/>
<line x1="51.00" y1="360.45" x2="51.00" y2="545.35" stroke="#000" stroke-width="1.15"/>
<line x1="43.60" y1="544.80" x2="235.00" y2="544.80" stroke="#000" stroke-width="1.15"/>
<text x="41.70" y="548.45" font-size="10.3" font-weight="bold" text-anchor="end" stroke="#000" stroke-width="0.25">0</text>
<line x1="43.60" y1="526.42" x2="51.00" y2="526.42" stroke="#000" stroke-width="1.15"/>
<text x="41.70" y="530.07" font-size="10.3" font-weight="bold" text-anchor="end" stroke="#000" stroke-width="0.25">10</text>
<line x1="43.60" y1="508.04" x2="51.00" y2="508.04" stroke="#000" stroke-width="1.15"/>
<text x="41.70" y="511.69" font-size="10.3" font-weight="bold" text-anchor="end" stroke="#000" stroke-width="0.25">20</text>
<line x1="43.60" y1="489.66" x2="51.00" y2="489.66" stroke="#000" stroke-width="1.15"/>
<text x="41.70" y="493.31" font-size="10.3" font-weight="bold" text-anchor="end" stroke="#000" stroke-width="0.25">30</text>
<line x1="43.60" y1="471.28" x2="51.00" y2="471.28" stroke="#000" stroke-width="1.15"/>
<text x="41.70" y="474.93" font-size="10.3" font-weight="bold" text-anchor="end" stroke="#000" stroke-width="0.25">40</text>
<line x1="43.60" y1="452.90" x2="51.00" y2="452.90" stroke="#000" stroke-width="1.15"/>
<text x="41.70" y="456.55" font-size="10.3" font-weight="bold" text-anchor="end" stroke="#000" stroke-width="0.25">50</text>
<line x1="43.60" y1="434.52" x2="51.00" y2="434.52" stroke="#000" stroke-width="1.15"/>
<text x="41.70" y="438.17" font-size="10.3" font-weight="bold" text-anchor="end" stroke="#000" stroke-width="0.25">60</text>
<line x1="43.60" y1="416.14" x2="51.00" y2="416.14" stroke="#000" stroke-width="1.15"/>
<text x="41.70" y="419.79" font-size="10.3" font-weight="bold" text-anchor="end" stroke="#000" stroke-width="0.25">70</text>
<line x1="43.60" y1="397.76" x2="51.00" y2="397.76" stroke="#000" stroke-width="1.15"/>
<text x="41.70" y="401.41" font-size="10.3" font-weight="bold" text-anchor="end" stroke="#000" stroke-width="0.25">80</text>
<line x1="43.60" y1="379.38" x2="51.00" y2="379.38" stroke="#000" stroke-width="1.15"/>
<text x="41.70" y="383.03" font-size="10.3" font-weight="bold" text-anchor="end" stroke="#000" stroke-width="0.25">90</text>
<line x1="43.60" y1="361.00" x2="51.00" y2="361.00" stroke="#000" stroke-width="1.15"/>
<text x="41.70" y="364.65" font-size="10.3" font-weight="bold" text-anchor="end" stroke="#000" stroke-width="0.25">100</text>
<line x1="63.00" y1="544.80" x2="63.00" y2="552.40" stroke="#000" stroke-width="1.15"/>
<text x="66.40" y="562.00" font-size="10.3" font-weight="bold" text-anchor="end" stroke="#000" stroke-width="0.25" transform="rotate(-45 66.40 562.00)">0-4</text>
<line x1="81.06" y1="544.80" x2="81.06" y2="552.40" stroke="#000" stroke-width="1.15"/>
<text x="84.46" y="562.00" font-size="10.3" font-weight="bold" text-anchor="end" stroke="#000" stroke-width="0.25" transform="rotate(-45 84.46 562.00)">4-8</text>
<line x1="99.12" y1="544.80" x2="99.12" y2="552.40" stroke="#000" stroke-width="1.15"/>
<text x="102.52" y="562.00" font-size="10.3" font-weight="bold" text-anchor="end" stroke="#000" stroke-width="0.25" transform="rotate(-45 102.52 562.00)">8-12</text>
<line x1="117.18" y1="544.80" x2="117.18" y2="552.40" stroke="#000" stroke-width="1.15"/>
<text x="120.58" y="562.00" font-size="10.3" font-weight="bold" text-anchor="end" stroke="#000" stroke-width="0.25" transform="rotate(-45 120.58 562.00)">12-16</text>
<line x1="135.24" y1="544.80" x2="135.24" y2="552.40" stroke="#000" stroke-width="1.15"/>
<text x="138.64" y="562.00" font-size="10.3" font-weight="bold" text-anchor="end" stroke="#000" stroke-width="0.25" transform="rotate(-45 138.64 562.00)">16-20</text>
<line x1="153.30" y1="544.80" x2="153.30" y2="552.40" stroke="#000" stroke-width="1.15"/>
<text x="156.70" y="562.00" font-size="10.3" font-weight="bold" text-anchor="end" stroke="#000" stroke-width="0.25" transform="rotate(-45 156.70 562.00)">20-24</text>
<line x1="171.36" y1="544.80" x2="171.36" y2="552.40" stroke="#000" stroke-width="1.15"/>
<text x="174.76" y="562.00" font-size="10.3" font-weight="bold" text-anchor="end" stroke="#000" stroke-width="0.25" transform="rotate(-45 174.76 562.00)">24-28</text>
<line x1="189.42" y1="544.80" x2="189.42" y2="552.40" stroke="#000" stroke-width="1.15"/>
<text x="192.82" y="562.00" font-size="10.3" font-weight="bold" text-anchor="end" stroke="#000" stroke-width="0.25" transform="rotate(-45 192.82 562.00)">28-32</text>
<line x1="207.48" y1="544.80" x2="207.48" y2="552.40" stroke="#000" stroke-width="1.15"/>
<text x="210.88" y="562.00" font-size="10.3" font-weight="bold" text-anchor="end" stroke="#000" stroke-width="0.25" transform="rotate(-45 210.88 562.00)">32-36</text>
<line x1="225.54" y1="544.80" x2="225.54" y2="552.40" stroke="#000" stroke-width="1.15"/>
<text x="228.94" y="562.00" font-size="10.3" font-weight="bold" text-anchor="end" stroke="#000" stroke-width="0.25" transform="rotate(-45 228.94 562.00)">36-40</text>
<rect x="94.40" y="352.20" width="35.60" height="141.20" fill="#DFDFDF"/>
<rect x="97.65" y="416.20" width="8.70" height="77.20" fill="#00C200"/>
<rect x="97.65" y="404.55" width="8.70" height="11.65" fill="#FFA33E"/>
<line x1="97.40" y1="416.20" x2="106.60" y2="416.20" stroke="#000" stroke-width="0.8"/>
<rect x="97.80" y="404.70" width="8.40" height="88.70" fill="none" stroke="#000" stroke-width="0.8"/>
<rect x="111.45" y="433.40" width="8.70" height="60.00" fill="#00C200"/>
<rect x="111.45" y="415.40" width="8.70" height="18.00" fill="#FFA33E"/>
<rect x="111.45" y="409.75" width="8.70" height="5.65" fill="#FA3C41"/>
<line x1="111.20" y1="433.40" x2="120.40" y2="433.40" stroke="#000" stroke-width="0.8"/>
<line x1="111.20" y1="415.40" x2="120.40" y2="415.40" stroke="#000" stroke-width="0.8"/>
<rect x="111.60" y="409.90" width="8.40" height="83.50" fill="none" stroke="#000" stroke-width="0.8"/>
<rect x="125.25" y="454.20" width="8.70" height="39.20" fill="#00C200"/>
<rect x="125.25" y="436.75" width="8.70" height="17.45" fill="#FFA33E"/>
<line x1="125.00" y1="454.20" x2="134.20" y2="454.20" stroke="#000" stroke-width="0.8"/>
<rect x="125.40" y="436.90" width="8.40" height="56.50" fill="none" stroke="#000" stroke-width="0.8"/>
<rect x="139.05" y="478.80" width="8.70" height="14.60" fill="#00C200"/>
<rect x="139.05" y="467.05" width="8.70" height="11.75" fill="#FFA33E"/>
<line x1="138.80" y1="478.80" x2="148.00" y2="478.80" stroke="#000" stroke-width="0.8"/>
<rect x="139.20" y="467.20" width="8.40" height="26.20" fill="none" stroke="#000" stroke-width="0.8"/>
<rect x="152.85" y="481.90" width="8.70" height="11.50" fill="#00C200"/>
<rect x="152.85" y="476.05" width="8.70" height="5.85" fill="#FFA33E"/>
<line x1="152.60" y1="481.90" x2="161.80" y2="481.90" stroke="#000" stroke-width="0.8"/>
<rect x="153.00" y="476.20" width="8.40" height="17.20" fill="none" stroke="#000" stroke-width="0.8"/>
<rect x="166.65" y="490.80" width="8.70" height="2.60" fill="#00C200"/>
<rect x="166.65" y="476.05" width="8.70" height="14.75" fill="#FFA33E"/>
<line x1="166.40" y1="490.80" x2="175.60" y2="490.80" stroke="#000" stroke-width="0.8"/>
<rect x="166.80" y="476.20" width="8.40" height="17.20" fill="none" stroke="#000" stroke-width="0.8"/>
<rect x="180.45" y="490.80" width="8.70" height="2.60" fill="#00C200"/>
<rect x="180.45" y="488.05" width="8.70" height="2.75" fill="#FFA33E"/>
<line x1="180.20" y1="490.80" x2="189.40" y2="490.80" stroke="#000" stroke-width="0.8"/>
<rect x="180.60" y="488.20" width="8.40" height="5.20" fill="none" stroke="#000" stroke-width="0.8"/>
<rect x="194.25" y="491.05" width="8.70" height="2.35" fill="#FFA33E"/>
<rect x="194.40" y="491.20" width="8.40" height="2.20" fill="none" stroke="#000" stroke-width="0.8"/>
<rect x="208.05" y="488.35" width="8.70" height="5.05" fill="#00C200"/>
<rect x="208.20" y="488.50" width="8.40" height="4.90" fill="none" stroke="#000" stroke-width="0.8"/>
<rect x="221.85" y="491.05" width="8.70" height="2.35" fill="#00C200"/>
<rect x="222.00" y="491.20" width="8.40" height="2.20" fill="none" stroke="#000" stroke-width="0.8"/>
<line x1="92.95" y1="352.80" x2="92.95" y2="493.85" stroke="#000" stroke-width="0.9"/>
<line x1="87.35" y1="493.40" x2="233.00" y2="493.40" stroke="#000" stroke-width="0.9"/>
<text x="85.75" y="496.45" font-size="8" font-weight="bold" text-anchor="end" stroke="#000" stroke-width="0.2">0</text>
<line x1="90.05" y1="479.38" x2="92.95" y2="479.38" stroke="#000" stroke-width="0.9"/>
<line x1="90.05" y1="465.37" x2="92.95" y2="465.37" stroke="#000" stroke-width="0.9"/>
<line x1="90.05" y1="451.36" x2="92.95" y2="451.36" stroke="#000" stroke-width="0.9"/>
<line x1="90.05" y1="437.34" x2="92.95" y2="437.34" stroke="#000" stroke-width="0.9"/>
<line x1="87.35" y1="423.32" x2="92.95" y2="423.32" stroke="#000" stroke-width="0.9"/>
<text x="85.75" y="426.38" font-size="8" font-weight="bold" text-anchor="end" stroke="#000" stroke-width="0.2">5</text>
<line x1="90.05" y1="409.31" x2="92.95" y2="409.31" stroke="#000" stroke-width="0.9"/>
<line x1="90.05" y1="395.30" x2="92.95" y2="395.30" stroke="#000" stroke-width="0.9"/>
<line x1="90.05" y1="381.28" x2="92.95" y2="381.28" stroke="#000" stroke-width="0.9"/>
<line x1="90.05" y1="367.26" x2="92.95" y2="367.26" stroke="#000" stroke-width="0.9"/>
<line x1="87.35" y1="353.25" x2="92.95" y2="353.25" stroke="#000" stroke-width="0.9"/>
<text x="85.75" y="356.30" font-size="8" font-weight="bold" text-anchor="end" stroke="#000" stroke-width="0.2">10</text>
<line x1="102.00" y1="493.40" x2="102.00" y2="498.90" stroke="#000" stroke-width="0.9"/>
<text x="104.50" y="506.10" font-size="8" font-weight="bold" text-anchor="end" stroke="#000" stroke-width="0.2" transform="rotate(-45 104.50 506.10)">0-4</text>
<line x1="115.80" y1="493.40" x2="115.80" y2="498.90" stroke="#000" stroke-width="0.9"/>
<text x="118.30" y="506.10" font-size="8" font-weight="bold" text-anchor="end" stroke="#000" stroke-width="0.2" transform="rotate(-45 118.30 506.10)">4-8</text>
<line x1="129.60" y1="493.40" x2="129.60" y2="498.90" stroke="#000" stroke-width="0.9"/>
<text x="132.10" y="506.10" font-size="8" font-weight="bold" text-anchor="end" stroke="#000" stroke-width="0.2" transform="rotate(-45 132.10 506.10)">8-12</text>
<line x1="143.40" y1="493.40" x2="143.40" y2="498.90" stroke="#000" stroke-width="0.9"/>
<text x="145.90" y="506.10" font-size="8" font-weight="bold" text-anchor="end" stroke="#000" stroke-width="0.2" transform="rotate(-45 145.90 506.10)">12-16</text>
<line x1="157.20" y1="493.40" x2="157.20" y2="498.90" stroke="#000" stroke-width="0.9"/>
<text x="159.70" y="506.10" font-size="8" font-weight="bold" text-anchor="end" stroke="#000" stroke-width="0.2" transform="rotate(-45 159.70 506.10)">16-20</text>
<line x1="171.00" y1="493.40" x2="171.00" y2="498.90" stroke="#000" stroke-width="0.9"/>
<text x="173.50" y="506.10" font-size="8" font-weight="bold" text-anchor="end" stroke="#000" stroke-width="0.2" transform="rotate(-45 173.50 506.10)">20-24</text>
<line x1="184.80" y1="493.40" x2="184.80" y2="498.90" stroke="#000" stroke-width="0.9"/>
<text x="187.30" y="506.10" font-size="8" font-weight="bold" text-anchor="end" stroke="#000" stroke-width="0.2" transform="rotate(-45 187.30 506.10)">24-28</text>
<line x1="198.60" y1="493.40" x2="198.60" y2="498.90" stroke="#000" stroke-width="0.9"/>
<text x="201.10" y="506.10" font-size="8" font-weight="bold" text-anchor="end" stroke="#000" stroke-width="0.2" transform="rotate(-45 201.10 506.10)">28-32</text>
<line x1="212.40" y1="493.40" x2="212.40" y2="498.90" stroke="#000" stroke-width="0.9"/>
<text x="214.90" y="506.10" font-size="8" font-weight="bold" text-anchor="end" stroke="#000" stroke-width="0.2" transform="rotate(-45 214.90 506.10)">32-36</text>
<line x1="226.20" y1="493.40" x2="226.20" y2="498.90" stroke="#000" stroke-width="0.9"/>
<text x="228.70" y="506.10" font-size="8" font-weight="bold" text-anchor="end" stroke="#000" stroke-width="0.2" transform="rotate(-45 228.70 506.10)">36-40</text>
<!-- Semaglutide 1 mg -->
<text x="427.40" y="328.90" font-size="15.3" font-weight="bold" text-anchor="middle" stroke="#000" stroke-width="0.3">Semaglutide 1 mg</text>
<text x="295.50" y="454.60" font-size="12.4" font-weight="bold" text-anchor="middle" stroke="#000" stroke-width="0.3" transform="rotate(-90 295.50 454.60)">Participants (%)</text>
<text x="427.10" y="609.40" font-size="12.4" font-weight="bold" text-anchor="middle" stroke="#000" stroke-width="0.3">Weeks</text>
<rect x="342.05" y="536.23" width="11.50" height="8.57" fill="#00C200"/>
<rect x="342.05" y="533.68" width="11.50" height="2.55" fill="#FFA33E"/>
<line x1="341.80" y1="536.23" x2="353.80" y2="536.23" stroke="#000" stroke-width="1.0"/>
<rect x="342.30" y="533.93" width="11.00" height="10.37" fill="none" stroke="#000" stroke-width="1.0"/>
<rect x="360.11" y="538.54" width="11.50" height="6.26" fill="#00C200"/>
<rect x="360.11" y="534.83" width="11.50" height="3.70" fill="#FFA33E"/>
<line x1="359.86" y1="538.54" x2="371.86" y2="538.54" stroke="#000" stroke-width="1.0"/>
<rect x="360.36" y="535.08" width="11.00" height="9.22" fill="none" stroke="#000" stroke-width="1.0"/>
<rect x="378.17" y="539.31" width="11.50" height="5.49" fill="#00C200"/>
<rect x="378.17" y="535.97" width="11.50" height="3.34" fill="#FFA33E"/>
<line x1="377.92" y1="539.31" x2="389.92" y2="539.31" stroke="#000" stroke-width="1.0"/>
<rect x="378.42" y="536.22" width="11.00" height="8.08" fill="none" stroke="#000" stroke-width="1.0"/>
<rect x="396.23" y="540.88" width="11.50" height="3.92" fill="#00C200"/>
<rect x="396.23" y="539.46" width="11.50" height="1.42" fill="#FFA33E"/>
<line x1="395.98" y1="540.88" x2="407.98" y2="540.88" stroke="#000" stroke-width="1.0"/>
<rect x="396.48" y="539.71" width="11.00" height="4.59" fill="none" stroke="#000" stroke-width="1.0"/>
<rect x="414.29" y="544.43" width="11.50" height="0.37" fill="#00C200"/>
<rect x="414.29" y="543.42" width="11.50" height="1.01" fill="#FFA33E"/>
<line x1="414.04" y1="544.43" x2="426.04" y2="544.43" stroke="#000" stroke-width="1.0"/>
<rect x="414.54" y="543.67" width="11.00" height="0.63" fill="none" stroke="#000" stroke-width="1.0"/>
<rect x="432.35" y="543.27" width="11.50" height="1.53" fill="#00C200"/>
<rect x="432.35" y="542.63" width="11.50" height="0.64" fill="#FFA33E"/>
<line x1="432.10" y1="543.27" x2="444.10" y2="543.27" stroke="#000" stroke-width="1.0"/>
<rect x="432.60" y="542.88" width="11.00" height="1.42" fill="none" stroke="#000" stroke-width="1.0"/>
<rect x="450.41" y="544.43" width="11.50" height="0.37" fill="#00C200"/>
<rect x="450.41" y="543.83" width="11.50" height="0.61" fill="#FFA33E"/>
<line x1="450.16" y1="544.43" x2="462.16" y2="544.43" stroke="#000" stroke-width="1.0"/>
<rect x="450.66" y="544.08" width="11.00" height="0.22" fill="none" stroke="#000" stroke-width="1.0"/>
<rect x="468.47" y="543.66" width="11.50" height="1.14" fill="#00C200"/>
<rect x="468.47" y="543.03" width="11.50" height="0.63" fill="#FFA33E"/>
<line x1="468.22" y1="543.66" x2="480.22" y2="543.66" stroke="#000" stroke-width="1.0"/>
<rect x="468.72" y="543.28" width="11.00" height="1.02" fill="none" stroke="#000" stroke-width="1.0"/>
<rect x="504.59" y="544.23" width="11.50" height="0.57" fill="#00C200"/>
<rect x="504.84" y="544.48" width="11.00" height="-0.18" fill="none" stroke="#000" stroke-width="1.0"/>
<line x1="335.80" y1="359.95" x2="335.80" y2="544.85" stroke="#000" stroke-width="1.15"/>
<line x1="328.40" y1="544.30" x2="519.80" y2="544.30" stroke="#000" stroke-width="1.15"/>
<text x="326.50" y="547.95" font-size="10.3" font-weight="bold" text-anchor="end" stroke="#000" stroke-width="0.25">0</text>
<line x1="328.40" y1="525.92" x2="335.80" y2="525.92" stroke="#000" stroke-width="1.15"/>
<text x="326.50" y="529.57" font-size="10.3" font-weight="bold" text-anchor="end" stroke="#000" stroke-width="0.25">10</text>
<line x1="328.40" y1="507.54" x2="335.80" y2="507.54" stroke="#000" stroke-width="1.15"/>
<text x="326.50" y="511.19" font-size="10.3" font-weight="bold" text-anchor="end" stroke="#000" stroke-width="0.25">20</text>
<line x1="328.40" y1="489.16" x2="335.80" y2="489.16" stroke="#000" stroke-width="1.15"/>
<text x="326.50" y="492.81" font-size="10.3" font-weight="bold" text-anchor="end" stroke="#000" stroke-width="0.25">30</text>
<line x1="328.40" y1="470.78" x2="335.80" y2="470.78" stroke="#000" stroke-width="1.15"/>
<text x="326.50" y="474.43" font-size="10.3" font-weight="bold" text-anchor="end" stroke="#000" stroke-width="0.25">40</text>
<line x1="328.40" y1="452.40" x2="335.80" y2="452.40" stroke="#000" stroke-width="1.15"/>
<text x="326.50" y="456.05" font-size="10.3" font-weight="bold" text-anchor="end" stroke="#000" stroke-width="0.25">50</text>
<line x1="328.40" y1="434.02" x2="335.80" y2="434.02" stroke="#000" stroke-width="1.15"/>
<text x="326.50" y="437.67" font-size="10.3" font-weight="bold" text-anchor="end" stroke="#000" stroke-width="0.25">60</text>
<line x1="328.40" y1="415.64" x2="335.80" y2="415.64" stroke="#000" stroke-width="1.15"/>
<text x="326.50" y="419.29" font-size="10.3" font-weight="bold" text-anchor="end" stroke="#000" stroke-width="0.25">70</text>
<line x1="328.40" y1="397.26" x2="335.80" y2="397.26" stroke="#000" stroke-width="1.15"/>
<text x="326.50" y="400.91" font-size="10.3" font-weight="bold" text-anchor="end" stroke="#000" stroke-width="0.25">80</text>
<line x1="328.40" y1="378.88" x2="335.80" y2="378.88" stroke="#000" stroke-width="1.15"/>
<text x="326.50" y="382.53" font-size="10.3" font-weight="bold" text-anchor="end" stroke="#000" stroke-width="0.25">90</text>
<line x1="328.40" y1="360.50" x2="335.80" y2="360.50" stroke="#000" stroke-width="1.15"/>
<text x="326.50" y="364.15" font-size="10.3" font-weight="bold" text-anchor="end" stroke="#000" stroke-width="0.25">100</text>
<line x1="347.70" y1="544.30" x2="347.70" y2="551.90" stroke="#000" stroke-width="1.15"/>
<text x="351.10" y="561.50" font-size="10.3" font-weight="bold" text-anchor="end" stroke="#000" stroke-width="0.25" transform="rotate(-45 351.10 561.50)">0-4</text>
<line x1="365.76" y1="544.30" x2="365.76" y2="551.90" stroke="#000" stroke-width="1.15"/>
<text x="369.16" y="561.50" font-size="10.3" font-weight="bold" text-anchor="end" stroke="#000" stroke-width="0.25" transform="rotate(-45 369.16 561.50)">4-8</text>
<line x1="383.82" y1="544.30" x2="383.82" y2="551.90" stroke="#000" stroke-width="1.15"/>
<text x="387.22" y="561.50" font-size="10.3" font-weight="bold" text-anchor="end" stroke="#000" stroke-width="0.25" transform="rotate(-45 387.22 561.50)">8-12</text>
<line x1="401.88" y1="544.30" x2="401.88" y2="551.90" stroke="#000" stroke-width="1.15"/>
<text x="405.28" y="561.50" font-size="10.3" font-weight="bold" text-anchor="end" stroke="#000" stroke-width="0.25" transform="rotate(-45 405.28 561.50)">12-16</text>
<line x1="419.94" y1="544.30" x2="419.94" y2="551.90" stroke="#000" stroke-width="1.15"/>
<text x="423.34" y="561.50" font-size="10.3" font-weight="bold" text-anchor="end" stroke="#000" stroke-width="0.25" transform="rotate(-45 423.34 561.50)">16-20</text>
<line x1="438.00" y1="544.30" x2="438.00" y2="551.90" stroke="#000" stroke-width="1.15"/>
<text x="441.40" y="561.50" font-size="10.3" font-weight="bold" text-anchor="end" stroke="#000" stroke-width="0.25" transform="rotate(-45 441.40 561.50)">20-24</text>
<line x1="456.06" y1="544.30" x2="456.06" y2="551.90" stroke="#000" stroke-width="1.15"/>
<text x="459.46" y="561.50" font-size="10.3" font-weight="bold" text-anchor="end" stroke="#000" stroke-width="0.25" transform="rotate(-45 459.46 561.50)">24-28</text>
<line x1="474.12" y1="544.30" x2="474.12" y2="551.90" stroke="#000" stroke-width="1.15"/>
<text x="477.52" y="561.50" font-size="10.3" font-weight="bold" text-anchor="end" stroke="#000" stroke-width="0.25" transform="rotate(-45 477.52 561.50)">28-32</text>
<line x1="492.18" y1="544.30" x2="492.18" y2="551.90" stroke="#000" stroke-width="1.15"/>
<text x="495.58" y="561.50" font-size="10.3" font-weight="bold" text-anchor="end" stroke="#000" stroke-width="0.25" transform="rotate(-45 495.58 561.50)">32-36</text>
<line x1="510.24" y1="544.30" x2="510.24" y2="551.90" stroke="#000" stroke-width="1.15"/>
<text x="513.64" y="561.50" font-size="10.3" font-weight="bold" text-anchor="end" stroke="#000" stroke-width="0.25" transform="rotate(-45 513.64 561.50)">36-40</text>
<rect x="379.70" y="352.30" width="21.50" height="140.90" fill="#DFDFDF"/>
<rect x="382.85" y="427.65" width="8.70" height="65.55" fill="#00C200"/>
<rect x="382.85" y="409.95" width="8.70" height="17.70" fill="#FFA33E"/>
<line x1="382.60" y1="427.65" x2="391.80" y2="427.65" stroke="#000" stroke-width="0.8"/>
<rect x="383.00" y="410.10" width="8.40" height="83.10" fill="none" stroke="#000" stroke-width="0.8"/>
<rect x="396.65" y="445.30" width="8.70" height="47.90" fill="#00C200"/>
<rect x="396.65" y="418.75" width="8.70" height="26.55" fill="#FFA33E"/>
<line x1="396.40" y1="445.30" x2="405.60" y2="445.30" stroke="#000" stroke-width="0.8"/>
<rect x="396.80" y="418.90" width="8.40" height="74.30" fill="none" stroke="#000" stroke-width="0.8"/>
<rect x="410.45" y="451.20" width="8.70" height="42.00" fill="#00C200"/>
<rect x="410.45" y="427.45" width="8.70" height="23.75" fill="#FFA33E"/>
<line x1="410.20" y1="451.20" x2="419.40" y2="451.20" stroke="#000" stroke-width="0.8"/>
<rect x="410.60" y="427.60" width="8.40" height="65.60" fill="none" stroke="#000" stroke-width="0.8"/>
<rect x="424.25" y="463.20" width="8.70" height="30.00" fill="#00C200"/>
<rect x="424.25" y="454.15" width="8.70" height="9.05" fill="#FFA33E"/>
<line x1="424.00" y1="463.20" x2="433.20" y2="463.20" stroke="#000" stroke-width="0.8"/>
<rect x="424.40" y="454.30" width="8.40" height="38.90" fill="none" stroke="#000" stroke-width="0.8"/>
<rect x="438.05" y="490.40" width="8.70" height="2.80" fill="#00C200"/>
<rect x="438.05" y="484.45" width="8.70" height="5.95" fill="#FFA33E"/>
<line x1="437.80" y1="490.40" x2="447.00" y2="490.40" stroke="#000" stroke-width="0.8"/>
<rect x="438.20" y="484.60" width="8.40" height="8.60" fill="none" stroke="#000" stroke-width="0.8"/>
<rect x="451.85" y="481.50" width="8.70" height="11.70" fill="#00C200"/>
<rect x="451.85" y="478.35" width="8.70" height="3.15" fill="#FFA33E"/>
<line x1="451.60" y1="481.50" x2="460.80" y2="481.50" stroke="#000" stroke-width="0.8"/>
<rect x="452.00" y="478.50" width="8.40" height="14.70" fill="none" stroke="#000" stroke-width="0.8"/>
<rect x="465.65" y="490.40" width="8.70" height="2.80" fill="#00C200"/>
<rect x="465.65" y="487.55" width="8.70" height="2.85" fill="#FFA33E"/>
<line x1="465.40" y1="490.40" x2="474.60" y2="490.40" stroke="#000" stroke-width="0.8"/>
<rect x="465.80" y="487.70" width="8.40" height="5.50" fill="none" stroke="#000" stroke-width="0.8"/>
<rect x="479.45" y="484.50" width="8.70" height="8.70" fill="#00C200"/>
<rect x="479.45" y="481.45" width="8.70" height="3.05" fill="#FFA33E"/>
<line x1="479.20" y1="484.50" x2="488.40" y2="484.50" stroke="#000" stroke-width="0.8"/>
<rect x="479.60" y="481.60" width="8.40" height="11.60" fill="none" stroke="#000" stroke-width="0.8"/>
<rect x="507.05" y="490.65" width="8.70" height="2.55" fill="#00C200"/>
<rect x="507.20" y="490.80" width="8.40" height="2.40" fill="none" stroke="#000" stroke-width="0.8"/>
<line x1="378.00" y1="352.20" x2="378.00" y2="493.65" stroke="#000" stroke-width="0.9"/>
<line x1="372.40" y1="493.20" x2="518.80" y2="493.20" stroke="#000" stroke-width="0.9"/>
<text x="370.80" y="496.25" font-size="8" font-weight="bold" text-anchor="end" stroke="#000" stroke-width="0.2">0</text>
<line x1="375.10" y1="479.14" x2="378.00" y2="479.14" stroke="#000" stroke-width="0.9"/>
<line x1="375.10" y1="465.09" x2="378.00" y2="465.09" stroke="#000" stroke-width="0.9"/>
<line x1="375.10" y1="451.03" x2="378.00" y2="451.03" stroke="#000" stroke-width="0.9"/>
<line x1="375.10" y1="436.98" x2="378.00" y2="436.98" stroke="#000" stroke-width="0.9"/>
<line x1="372.40" y1="422.92" x2="378.00" y2="422.92" stroke="#000" stroke-width="0.9"/>
<text x="370.80" y="425.97" font-size="8" font-weight="bold" text-anchor="end" stroke="#000" stroke-width="0.2">5</text>
<line x1="375.10" y1="408.87" x2="378.00" y2="408.87" stroke="#000" stroke-width="0.9"/>
<line x1="375.10" y1="394.81" x2="378.00" y2="394.81" stroke="#000" stroke-width="0.9"/>
<line x1="375.10" y1="380.76" x2="378.00" y2="380.76" stroke="#000" stroke-width="0.9"/>
<line x1="375.10" y1="366.70" x2="378.00" y2="366.70" stroke="#000" stroke-width="0.9"/>
<line x1="372.40" y1="352.65" x2="378.00" y2="352.65" stroke="#000" stroke-width="0.9"/>
<text x="370.80" y="355.70" font-size="8" font-weight="bold" text-anchor="end" stroke="#000" stroke-width="0.2">10</text>
<line x1="387.20" y1="493.20" x2="387.20" y2="498.70" stroke="#000" stroke-width="0.9"/>
<text x="389.70" y="505.90" font-size="8" font-weight="bold" text-anchor="end" stroke="#000" stroke-width="0.2" transform="rotate(-45 389.70 505.90)">0-4</text>
<line x1="401.00" y1="493.20" x2="401.00" y2="498.70" stroke="#000" stroke-width="0.9"/>
<text x="403.50" y="505.90" font-size="8" font-weight="bold" text-anchor="end" stroke="#000" stroke-width="0.2" transform="rotate(-45 403.50 505.90)">4-8</text>
<line x1="414.80" y1="493.20" x2="414.80" y2="498.70" stroke="#000" stroke-width="0.9"/>
<text x="417.30" y="505.90" font-size="8" font-weight="bold" text-anchor="end" stroke="#000" stroke-width="0.2" transform="rotate(-45 417.30 505.90)">8-12</text>
<line x1="428.60" y1="493.20" x2="428.60" y2="498.70" stroke="#000" stroke-width="0.9"/>
<text x="431.10" y="505.90" font-size="8" font-weight="bold" text-anchor="end" stroke="#000" stroke-width="0.2" transform="rotate(-45 431.10 505.90)">12-16</text>
<line x1="442.40" y1="493.20" x2="442.40" y2="498.70" stroke="#000" stroke-width="0.9"/>
<text x="444.90" y="505.90" font-size="8" font-weight="bold" text-anchor="end" stroke="#000" stroke-width="0.2" transform="rotate(-45 444.90 505.90)">16-20</text>
<line x1="456.20" y1="493.20" x2="456.20" y2="498.70" stroke="#000" stroke-width="0.9"/>
<text x="458.70" y="505.90" font-size="8" font-weight="bold" text-anchor="end" stroke="#000" stroke-width="0.2" transform="rotate(-45 458.70 505.90)">20-24</text>
<line x1="470.00" y1="493.20" x2="470.00" y2="498.70" stroke="#000" stroke-width="0.9"/>
<text x="472.50" y="505.90" font-size="8" font-weight="bold" text-anchor="end" stroke="#000" stroke-width="0.2" transform="rotate(-45 472.50 505.90)">24-28</text>
<line x1="483.80" y1="493.20" x2="483.80" y2="498.70" stroke="#000" stroke-width="0.9"/>
<text x="486.30" y="505.90" font-size="8" font-weight="bold" text-anchor="end" stroke="#000" stroke-width="0.2" transform="rotate(-45 486.30 505.90)">28-32</text>
<line x1="497.60" y1="493.20" x2="497.60" y2="498.70" stroke="#000" stroke-width="0.9"/>
<text x="500.10" y="505.90" font-size="8" font-weight="bold" text-anchor="end" stroke="#000" stroke-width="0.2" transform="rotate(-45 500.10 505.90)">32-36</text>
<line x1="511.40" y1="493.20" x2="511.40" y2="498.70" stroke="#000" stroke-width="0.9"/>
<text x="513.90" y="505.90" font-size="8" font-weight="bold" text-anchor="end" stroke="#000" stroke-width="0.2" transform="rotate(-45 513.90 505.90)">36-40</text>
<!-- legend -->
<rect x="149.70" y="636.30" width="12.80" height="12.60" fill="#00C200" stroke="#000" stroke-width="1.0"/>
<text x="170.00" y="647.75" font-size="14.3" font-weight="normal" text-anchor="start" stroke="#000" stroke-width="0.2">Mild</text>
<rect x="217.30" y="636.30" width="12.80" height="12.60" fill="#FFA33E" stroke="#000" stroke-width="1.0"/>
<text x="237.30" y="647.75" font-size="14.3" font-weight="normal" text-anchor="start" stroke="#000" stroke-width="0.2">Moderate</text>
<rect x="312.50" y="636.30" width="12.80" height="12.60" fill="#FA3C41" stroke="#000" stroke-width="1.0"/>
<text x="331.30" y="647.75" font-size="14.3" font-weight="normal" text-anchor="start" stroke="#000" stroke-width="0.2">Severe</text>
</svg>
</body></html>
